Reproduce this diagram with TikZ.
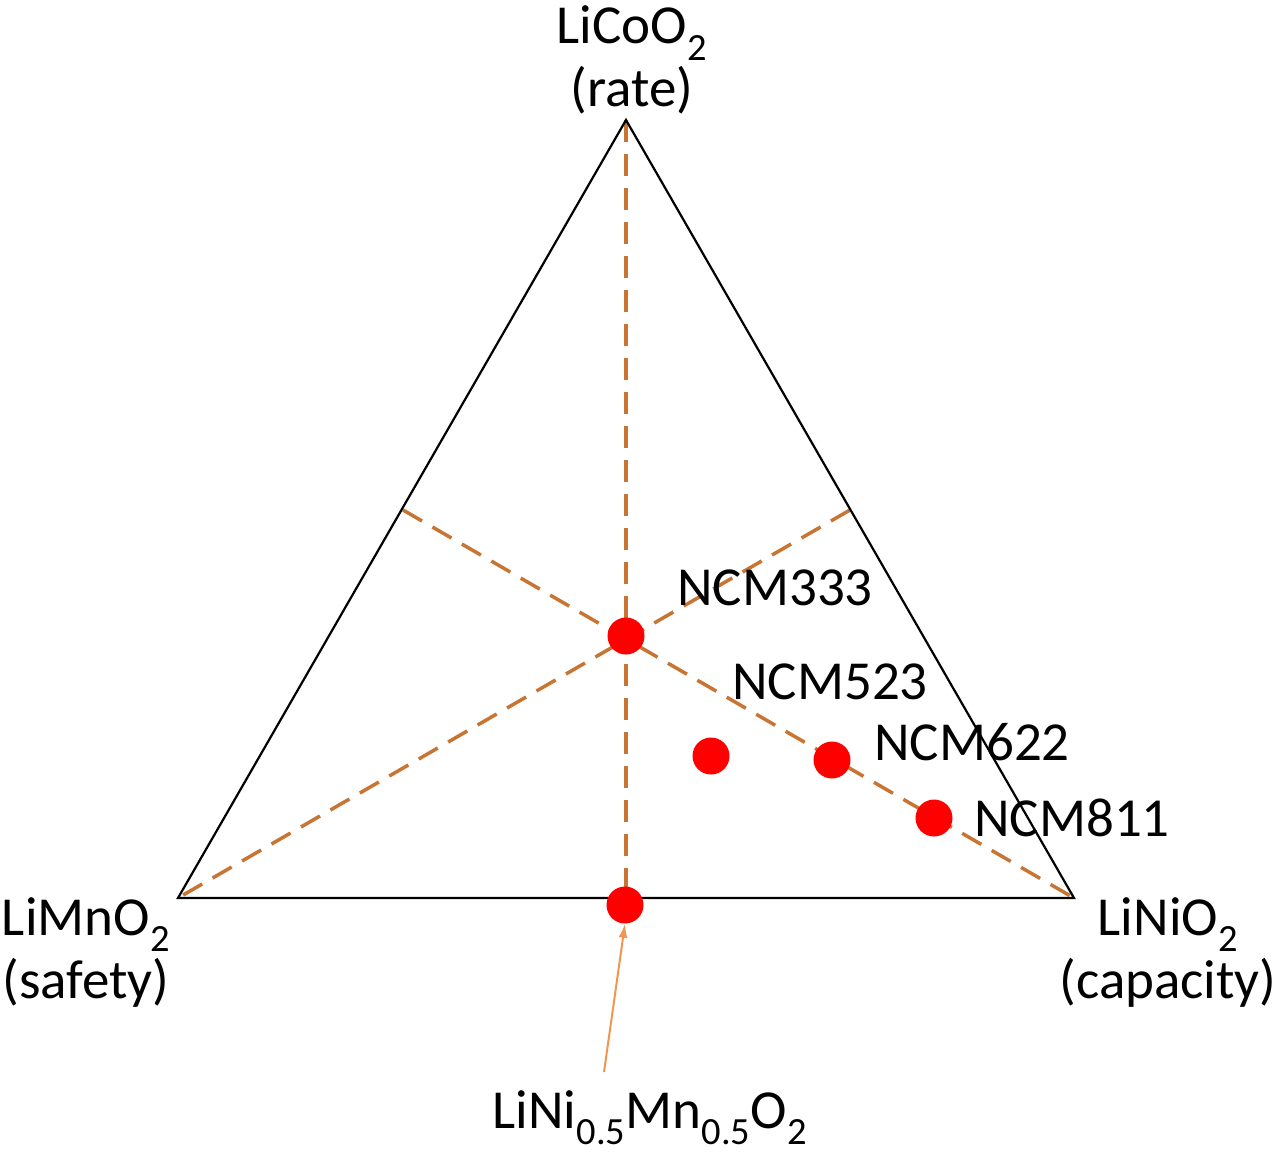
\documentclass[tikz,border=0pt]{standalone}
\usetikzlibrary{arrows.meta}
\usepackage{fontspec}
\setmainfont{Carlito}
\begin{document}
\begin{tikzpicture}[x=1pt,y=-1pt,
  dsh/.style={color={rgb,255:red,200;green,117;blue,51},line width=3.5pt,dash pattern=on 22pt off 12pt},
  dot/.style={circle,fill=red,minimum size=37pt,inner sep=0pt},
  lbl/.style={font=\fontsize{55}{63}\selectfont,align=center,inner sep=0pt}]
\useasboundingbox (0,0) rectangle (1280,1152);
\coordinate (T) at (626,120); \coordinate (L) at (178,898); \coordinate (R) at (1074,898);
\coordinate (B) at (626,898); \coordinate (ML) at (403,510); \coordinate (MR) at (850,510);
\draw[dsh] (T) -- (B);
\draw[dsh] (ML) -- (R);
\draw[dsh] (MR) -- (L);
\draw[line width=2.2pt] (T) -- (L) -- (R) -- cycle;
\node[dot] (n333) at (626,636) {};
\node[dot] (n523) at (711,756) {};
\node[dot] (n622) at (832,760) {};
\node[dot] (n811) at (934,818) {};
\node[dot] (n55) at (625,905) {};
\node[lbl] (l333) at (775,588) {NCM333};
\node[lbl] (l523) at (830,682) {NCM523};
\node[lbl] (l622) at (972,742) {NCM622};
\node[lbl] (l811) at (1072,818) {NCM811};
\node[lbl] (top) at (632,60) {LiCoO\textsubscript{2}\\(rate)};
\node[lbl] (left) at (86,952) {LiMnO\textsubscript{2}\\(safety)};
\node[lbl] (right) at (1168,952) {LiNiO\textsubscript{2}\\(capacity)};
\node[lbl] (bot) at (650,1118) {LiNi\textsubscript{0.5}Mn\textsubscript{0.5}O\textsubscript{2}};
\coordinate (as) at (604,1072);
\draw[color={rgb,255:red,240;green,150;blue,80},line width=2pt,-{Latex[length=14pt,width=9pt]}] (as) -- (n55.south);
\end{tikzpicture}
\end{document}
